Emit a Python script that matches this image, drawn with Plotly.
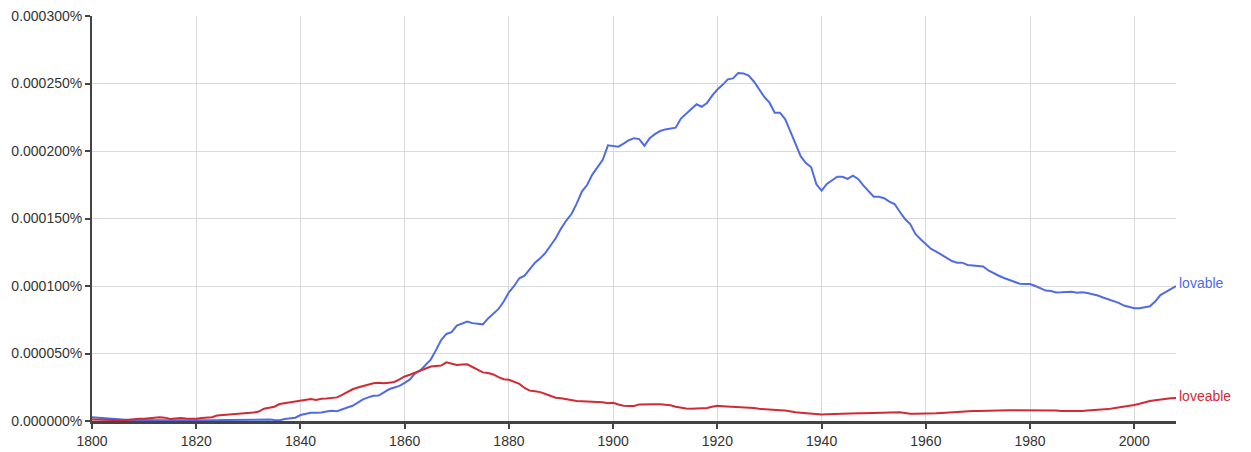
import plotly.graph_objects as go

years = list(range(1800, 2009))

# values in millionths of a percent (1.0 == 0.000001%)
lovable = [
    2.7, 2.4, 2.2, 2.0, 1.5, 1.0, 0.8, 0.7, 0.7, 0.6,
    0.6, 0.5, 0.5, 0.6, 0.5, 0.6, 0.7, 0.6, 0.5, 0.5,
    0.6, 0.5, 0.4, 0.5, 0.6, 0.7, 0.8, 0.9, 1.0, 1.0,
    1.1, 1.1, 1.0, 1.0, 1.1, 0.8, 0.6, 1.5, 2.0, 2.4,
    4.4, 5.5, 6.1, 6.2, 6.3, 7.0, 7.6, 7.2, 8.9, 10.0,
    11.3, 13.5, 16.0, 17.5, 18.7, 18.9, 21.0, 23.5, 24.8, 26.0,
    28.3, 30.8, 35.3, 37.5, 41.5, 45.5, 52.5, 60.0, 64.5, 65.8,
    70.6, 72.0, 73.6, 72.5, 71.9, 71.6, 76.0, 79.5, 83.0, 88.5,
    95.3, 100.0, 105.7, 107.6, 112.5, 117.3, 120.5, 124.5, 130.0, 135.5,
    142.5, 148.5, 153.3, 161.0, 170.0, 174.8, 182.5, 188.0, 193.5, 204.2,
    203.8, 203.2, 205.5, 208.0, 209.5, 208.8, 203.9, 209.4, 212.5, 214.8,
    216.0, 216.8, 217.3, 224.0, 227.5, 231.0, 234.6, 232.8, 235.6, 241.0,
    245.5, 249.0, 253.1, 253.8, 257.8, 257.5, 255.8, 251.5, 246.0, 240.0,
    235.8, 228.4, 228.4, 223.7, 214.5, 204.5, 196.0, 191.0, 187.9, 175.3,
    170.6, 175.6, 178.0, 181.0, 180.9, 179.3, 181.7, 179.3, 174.5, 170.6,
    166.1, 166.1, 165.0, 162.5, 160.7, 155.0, 149.6, 145.9, 138.5, 134.6,
    131.1, 127.4, 125.5, 123.0, 120.5, 118.5, 117.3, 117.3, 115.6, 115.2,
    115.0, 114.5, 111.5, 109.3, 107.6, 105.9, 104.5, 102.6, 101.7, 101.5,
    101.5, 100.0, 98.2, 96.6, 96.3, 95.2, 95.3, 95.6, 95.8, 95.0,
    95.3, 94.8, 94.1, 93.0, 91.5, 90.3, 88.8, 87.5, 85.5, 84.3,
    83.6, 83.5, 84.0, 85.0, 88.5, 93.3, 95.5, 97.8, 100.0,
]

loveable = [
    1.2, 1.0, 0.8, 0.6, 0.4, 0.2, 0.5, 1.0, 1.5, 1.6,
    1.7, 2.2, 2.6, 2.7, 2.5, 1.5, 1.9, 2.2, 1.8, 1.7,
    1.7, 2.2, 2.5, 2.8, 4.0, 4.3, 4.7, 5.3, 5.4, 5.5,
    5.7, 6.3, 7.0, 9.1, 9.8, 10.6, 12.6, 13.2, 13.8, 14.5,
    14.8, 15.3, 16.3, 15.6, 16.5, 16.6, 16.8, 17.5, 19.3, 21.7,
    23.5, 24.8, 25.9, 27.0, 27.9, 28.4, 27.9, 28.4, 28.9, 30.8,
    33.0, 34.3, 35.8, 37.5, 39.3, 40.3, 40.8, 41.1, 43.5, 42.5,
    41.5, 41.8, 42.0, 40.0, 38.0, 36.0, 35.5, 34.5, 32.5, 30.9,
    30.5, 29.0, 27.5, 24.5, 22.5, 22.0, 21.4, 20.0, 18.5, 17.2,
    16.8, 16.0, 15.3, 14.9, 14.7, 14.6, 14.4, 14.2, 13.8, 13.2,
    13.5, 12.2, 11.3, 11.1, 11.2, 12.3, 12.5, 12.4, 12.4, 12.4,
    12.2, 11.6, 10.5, 9.6, 9.2, 9.1, 9.3, 9.5, 9.6, 10.5,
    11.3, 11.0, 10.8, 10.6, 10.4, 10.2, 10.1, 9.6, 9.0, 8.6,
    8.3, 8.1, 7.9, 7.7, 7.0, 6.5, 6.2, 5.9, 5.4, 4.8,
    4.8, 5.0, 5.2, 5.4, 5.6, 5.7, 5.7, 5.7, 5.8, 5.9,
    6.2, 6.4, 6.6, 6.7, 6.6, 6.4, 6.0, 5.4, 5.4, 5.4,
    5.4, 5.4, 5.7, 6.0, 6.3, 6.6, 7.0, 7.3, 7.4, 7.4,
    7.4, 7.4, 7.4, 7.5, 7.6, 7.8, 7.9, 8.0, 8.0, 8.1,
    8.1, 8.2, 8.2, 8.1, 8.0, 7.8, 7.5, 7.4, 7.3, 7.4,
    7.5, 7.7, 7.9, 8.1, 8.4, 8.8, 9.4, 9.9, 10.5, 11.2,
    11.9, 12.8, 14.0, 14.8, 15.3, 16.0, 16.5, 16.9, 17.0,
]

y_ticks = [0, 50, 100, 150, 200, 250, 300]
y_tick_labels = ["0.000000%", "0.000050%", "0.000100%", "0.000150%",
                 "0.000200%", "0.000250%", "0.000300%"]
x_ticks = [1800, 1820, 1840, 1860, 1880, 1900, 1920, 1940, 1960, 1980, 2000]

BLUE = "#4f6ce3"
RED = "#d22a35"
FONT = "Liberation Sans, Arial, sans-serif"

fig = go.Figure()
fig.add_trace(go.Scatter(x=years, y=lovable, mode="lines", name="lovable",
                         line=dict(color=BLUE, width=2)))
fig.add_trace(go.Scatter(x=years, y=loveable, mode="lines", name="loveable",
                         line=dict(color=RED, width=2)))

fig.add_annotation(x=years[-1], y=lovable[-1], text="lovable", showarrow=False,
                   xanchor="left", yanchor="middle", xshift=1, yshift=3,
                   font=dict(color=BLUE, size=14, family=FONT))
fig.add_annotation(x=years[-1], y=loveable[-1], text="loveable", showarrow=False,
                   xanchor="left", yanchor="middle", xshift=1, yshift=2,
                   font=dict(color=RED, size=14, family=FONT))

fig.update_layout(
    width=1243, height=444,
    margin=dict(l=84, r=75, t=8, b=31, autoexpand=False),
    paper_bgcolor="white", plot_bgcolor="white",
    showlegend=False,
    font=dict(family=FONT, size=14, color="#333333"),
    xaxis=dict(range=[1800, 2008], tickvals=x_ticks, showgrid=True,
               gridcolor="#d9d9d9", gridwidth=1, zeroline=False,
               showline=True, linecolor="#444444", linewidth=3,
               ticks="outside", ticklen=5, tickwidth=2, tickcolor="#444444",
               automargin=False, ticklabeloverflow="allow",
               tickfont=dict(size=14, color="#333333")),
    yaxis=dict(range=[0, 300], tickvals=y_ticks, ticktext=y_tick_labels,
               showgrid=True, gridcolor="#d9d9d9", gridwidth=1, zeroline=False,
               showline=True, linecolor="#444444", linewidth=2,
               ticks="outside", ticklen=5, tickwidth=2, tickcolor="#444444",
               automargin=False, ticklabeloverflow="allow",
               tickfont=dict(size=14, color="#333333")),
)

fig.write_html("out.html")
